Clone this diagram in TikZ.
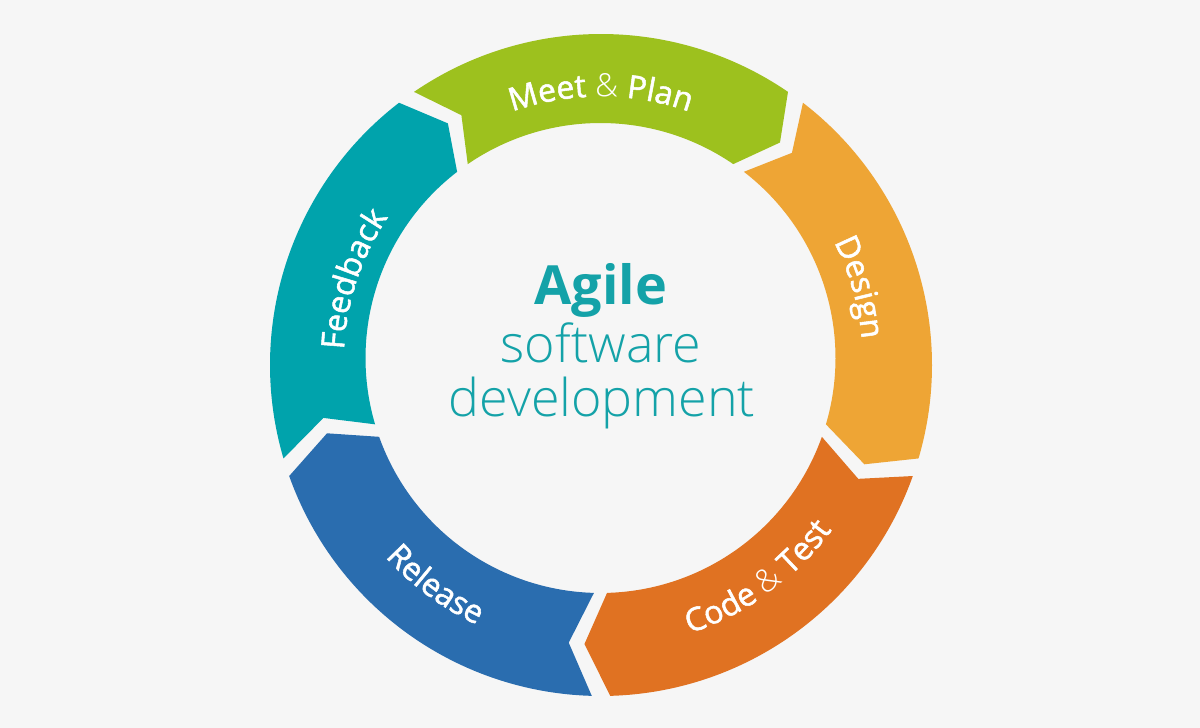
\documentclass[tikz,border=0pt]{standalone}
\usepackage{fontspec}
\setmainfont{Open Sans}
\newfontfamily\oslight{Open Sans Light}
\newfontfamily\ossemi[FakeBold=1.6]{Open Sans}
\usetikzlibrary{calc,decorations.text}
\definecolor{bgc}{RGB}{246,246,246}
\definecolor{cgreen}{RGB}{157,193,30}
\definecolor{cdesign}{RGB}{238,165,53}
\definecolor{ccode}{RGB}{224,114,34}
\definecolor{crel}{RGB}{42,109,175}
\definecolor{cfeed}{RGB}{0,163,172}
\definecolor{cteal}{RGB}{20,162,168}
\newcommand\lblfont{\ossemi\fontsize{32}{38}\selectfont}
\newcommand\ampfont{\oslight\fontsize{32}{38}\selectfont}
\tikzset{
  lbl/.style={decorate, decoration={text along path, text align=center, text color=white, text={#1}}},
  centertext/.style={anchor=base, text=cteal, inner sep=0pt}
}
\begin{document}
\begin{tikzpicture}[x=1pt,y=1pt]
\fill[bgc] (0,0) rectangle (1200,728);
\useasboundingbox (0,0) rectangle (1200,728);
\coordinate (O) at (601,363);
\coordinate (I) at (600.5,370);
\coordinate (M) at (600.75,366.5);
\def\Rout{331pt}
\def\Rin{235pt}
\def\Rmid{283pt}
\def\gapang{1.6}
\def\tipang{4.9}
\foreach \col/\a/\b in {cgreen/126/54, cdesign/54/-18, ccode/-18/-90, crel/-90/-162, cfeed/-162/-234}{
  \pgfmathsetmacro\sa{\a-\gapang}
  \pgfmathsetmacro\eb{\b+\gapang}
  \pgfmathsetmacro\tip{\b+\gapang-\tipang}
  \pgfmathsetmacro\notch{\a-\gapang-\tipang}
  \fill[\col] ($(O)+(\sa:\Rout)$) arc[start angle=\sa, end angle=\eb, radius=\Rout]
    -- ($(M)+(\tip:\Rmid)$) -- ($(I)+(\eb:\Rin)$)
    arc[start angle=\eb, end angle=\sa, radius=\Rin]
    -- ($(M)+(\notch:\Rmid)$) -- cycle;
}
% labels along the ring
\path[lbl={|\lblfont|Meet |\ampfont|{\&}|\lblfont| Plan}] ($(M)+(125:265pt)$) arc[start angle=125, end angle=55, radius=265pt];
\path[lbl={|\lblfont|Design}] ($(M)+(51:262pt)$) arc[start angle=51, end angle=-19, radius=262pt];
\path[lbl={|\lblfont|Code |\ampfont|{\&}|\lblfont| Test}] ($(M)+(-89:286pt)$) arc[start angle=-89, end angle=-19, radius=286pt];
\path[lbl={|\lblfont|Release}] ($(M)+(-161.5:291pt)$) arc[start angle=-161.5, end angle=-91.5, radius=291pt];
\path[lbl={|\lblfont|Feedback}] ($(M)+(196.6:257pt)$) arc[start angle=196.6, end angle=126.6, radius=257pt];
% centre text
\node[centertext, font=\bfseries\fontsize{54}{54}\selectfont] (agile) at (601,423) {Agile};
\node[centertext, font=\oslight\fontsize{52}{52}\selectfont] (soft) at (601,365) {software};
\node[centertext, font=\oslight\fontsize{52}{52}\selectfont] (dev) at (602,311) {development};
\end{tikzpicture}
\end{document}
